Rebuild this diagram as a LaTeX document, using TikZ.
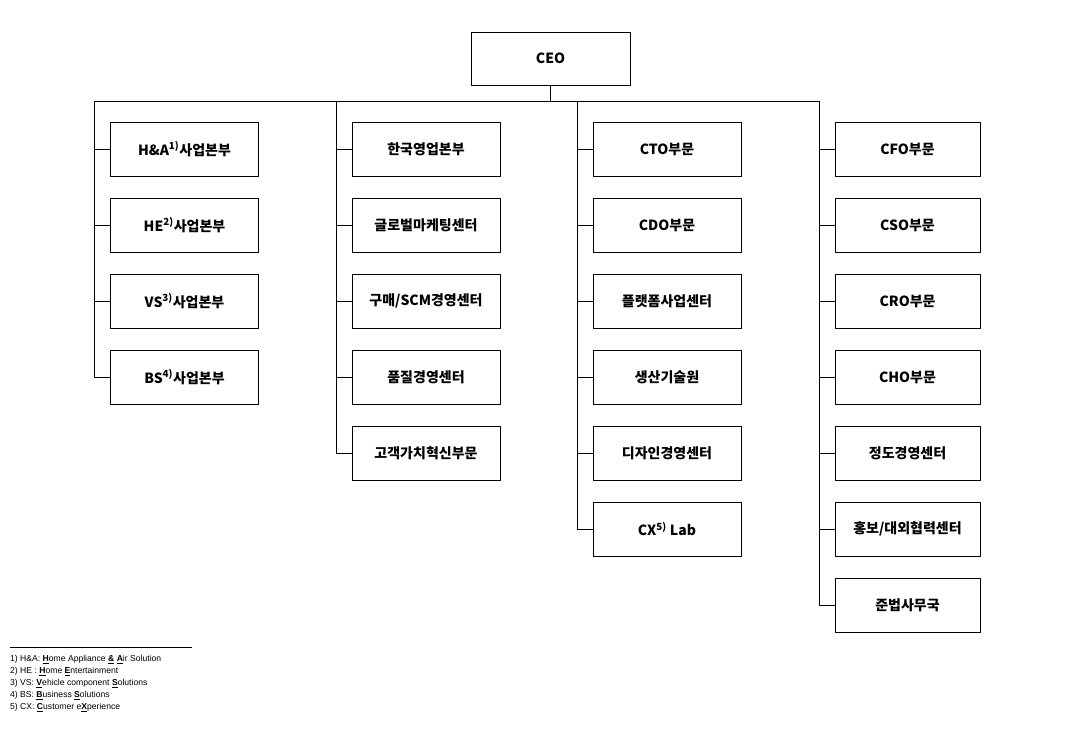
\documentclass[tikz,border=0pt]{standalone}
\usepackage{fontspec}
\setmainfont{Liberation Sans}
\newfontfamily\kr{Noto Sans CJK KR}
\begin{document}
\begin{tikzpicture}[x=1pt,y=-1pt,
  box/.style={draw,line width=0.8pt,minimum width=148pt,minimum height=54pt,inner sep=0pt,font=\kr\bfseries\fontsize{14}{16}\selectfont},
  ln/.style={line width=0.8pt}]
\useasboundingbox (0,0) rectangle (1089,734);
\node[box,minimum width=159pt,minimum height=53pt] (ceo) at (550.5,58.5) {CEO};
\draw[ln] (94,101) coordinate (t1) -- (819,101) coordinate (t4);
\coordinate (t2) at (336,101); \coordinate (t3) at (577,101);
\draw[ln] (ceo.south) -- (ceo.south |- t1);
\foreach \i/\t in {1/{H\&A\textsuperscript{1)}사업본부},2/{HE\textsuperscript{2)}사업본부},3/{VS\textsuperscript{3)}사업본부},4/{BS\textsuperscript{4)}사업본부}}{
  \node[box] (a\i) at (184.5,73+76*\i) {\t};
  \draw[ln] (a\i.west) -| (t1);
}
\foreach \i/\t in {1/한국영업본부,2/글로벌마케팅센터,3/{구매/SCM경영센터},4/품질경영센터,5/고객가치혁신부문}{
  \node[box] (b\i) at (426,73+76*\i) {\t};
  \draw[ln] (b\i.west) -| (t2);
}
\foreach \i/\t in {1/CTO부문,2/CDO부문,3/플랫폼사업센터,4/생산기술원,5/디자인경영센터,6/{CX\textsuperscript{5)} Lab}}{
  \node[box] (c\i) at (667,73+76*\i) {\t};
  \draw[ln] (c\i.west) -| (t3);
}
\foreach \i/\t in {1/CFO부문,2/CSO부문,3/CRO부문,4/CHO부문,5/정도경영센터,6/{홍보/대외협력센터},7/준법사무국}{
  \node[box,minimum width=145pt] (d\i) at (907.5,73+76*\i) {\t};
  \draw[ln] (d\i.west) -| (t4);
}
\draw[line width=0.6pt] (10,647) coordinate (f0) -- (192,647) coordinate (f1);
\node[anchor=north west,inner sep=0pt,align=left,font=\fontsize{8.6}{12}\selectfont] (fn) at (10,655) {%
1) H\&A: \underline{\textbf{H}}ome Appliance \underline{\textbf{\&}} \underline{\textbf{A}}ir Solution\\
2) HE : \underline{\textbf{H}}ome \underline{\textbf{E}}ntertainment\\
3) VS: \underline{\textbf{V}}ehicle component \underline{\textbf{S}}olutions\\
4) BS: \underline{\textbf{B}}usiness \underline{\textbf{S}}olutions\\
5) CX: \underline{\textbf{C}}ustomer e\underline{\textbf{X}}perience};
\end{tikzpicture}
\end{document}
